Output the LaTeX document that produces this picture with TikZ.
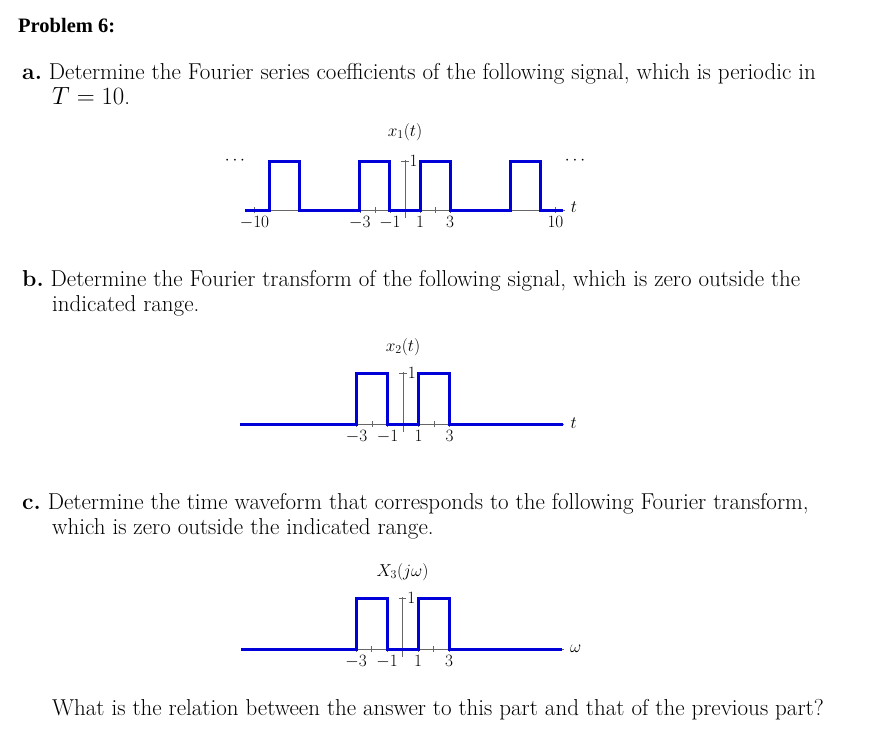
\documentclass[tikz,border=0pt]{standalone}
\usepackage{fontspec}
\newfontfamily\probfont{Liberation Serif}
\begin{document}
\begin{tikzpicture}[x=1pt,y=-1pt,
  txt/.style={anchor=base west,inner sep=0pt,font=\fontsize{23}{25}\selectfont},
  lbl/.style={inner sep=0pt,font=\fontsize{18}{20}\selectfont},
  sig/.style={blue!85!black,line width=3pt},
  ax/.style={gray!80!black,line width=0.6pt}]
\useasboundingbox (0,0) rectangle (887,745);
\node[txt,font=\probfont\bfseries\fontsize{20.5}{22}\selectfont] (p) at (18,32) {Problem 6:};
\node[txt] (a1) at (22,79) {\textbf{a.}\ Determine the Fourier series coefficients of the following signal, which is periodic in};
\node[txt] (a2) at (52,104) {$T=10$.};
\node[txt] (b1) at (22,286) {\textbf{b.}\ Determine the Fourier transform of the following signal, which is zero outside the};
\node[txt] (b2) at (52,311) {indicated range.};
\node[txt] (c1) at (22,509) {\textbf{c.}\ Determine the time waveform that corresponds to the following Fourier transform,};
\node[txt] (c2) at (52,534) {which is zero outside the indicated range.};
\node[txt] (q) at (52,715) {What is the relation between the answer to this part and that of the previous part?};
% plot a
\begin{scope}[shift={(405,210)},x=15.05pt]
\draw[ax] (-10.6,0) -- (10.6,0);
\draw[ax] (0,8) -- (0,-50);
\foreach \t in {-10,-3,-2,-1,1,2,3,10} \draw[ax] (\t,-3) -- (\t,3);
\draw[ax] (-0.25,-49) -- (0.25,-49);
\draw[sig] (-10.6,0) -- (-9,0) -- (-9,-49) -- (-7,-49) -- (-7,0) -- (-3,0) -- (-3,-49) -- (-1,-49) -- (-1,0) -- (1,0) -- (1,-49) -- (3,-49) -- (3,0) -- (7,0) -- (7,-49) -- (9,-49) -- (9,0) -- (10.5,0);
\node[lbl,anchor=west] (one1) at (0.3,-49) {$1$};
\node[lbl,anchor=west] (ta) at (11,-3) {$t$};
\node[lbl] (xa) at (0,-78) {$x_1(t)$};
\node[lbl] (da1) at (-11.3,-49) {$\cdots$};
\node[lbl] (da2) at (11.3,-49) {$\cdots$};
\foreach \t/\s in {-10/-10,-3/-3,-1/-1,1/1,3/3,10/10} \node[lbl,anchor=north] at (\t,6) {$\s$};
\end{scope}
% plot b
\begin{scope}[shift={(403,424)},x=15.5pt]
\draw[ax] (-10.5,0) -- (10.4,0);
\draw[ax] (0,8) -- (0,-52);
\foreach \t in {-3,-2,-1,1,2,3} \draw[ax] (\t,-3) -- (\t,3);
\draw[ax] (-0.25,-51) -- (0.25,-51);
\draw[sig] (-10.5,0) -- (-3,0) -- (-3,-51) -- (-1,-51) -- (-1,0) -- (1,0) -- (1,-51) -- (3,-51) -- (3,0) -- (10.3,0);
\node[lbl,anchor=west] (one2) at (0.3,-51) {$1$};
\node[lbl,anchor=west] (tb) at (10.8,-1) {$t$};
\node[lbl] (xb) at (0,-77) {$x_2(t)$};
\foreach \t/\s in {-3/-3,-1/-1,1/1,3/3} \node[lbl,anchor=north] at (\t,6) {$\s$};
\end{scope}
% plot c
\begin{scope}[shift={(402.5,649)},x=15.5pt]
\draw[ax] (-10.4,0) -- (10.4,0);
\draw[ax] (0,8) -- (0,-52);
\foreach \t in {-3,-2,-1,1,2,3} \draw[ax] (\t,-3) -- (\t,3);
\draw[ax] (-0.25,-51) -- (0.25,-51);
\draw[sig] (-10.4,0) -- (-3,0) -- (-3,-51) -- (-1,-51) -- (-1,0) -- (1,0) -- (1,-51) -- (3,-51) -- (3,0) -- (10.3,0);
\node[lbl,anchor=west] (one3) at (0.3,-51) {$1$};
\node[lbl,anchor=west] (wc) at (10.8,0) {$\omega$};
\node[lbl] (xc) at (0,-77) {$X_3(j\omega)$};
\foreach \t/\s in {-3/-3,-1/-1,1/1,3/3} \node[lbl,anchor=north] at (\t,6) {$\s$};
\end{scope}
\end{tikzpicture}
\end{document}
